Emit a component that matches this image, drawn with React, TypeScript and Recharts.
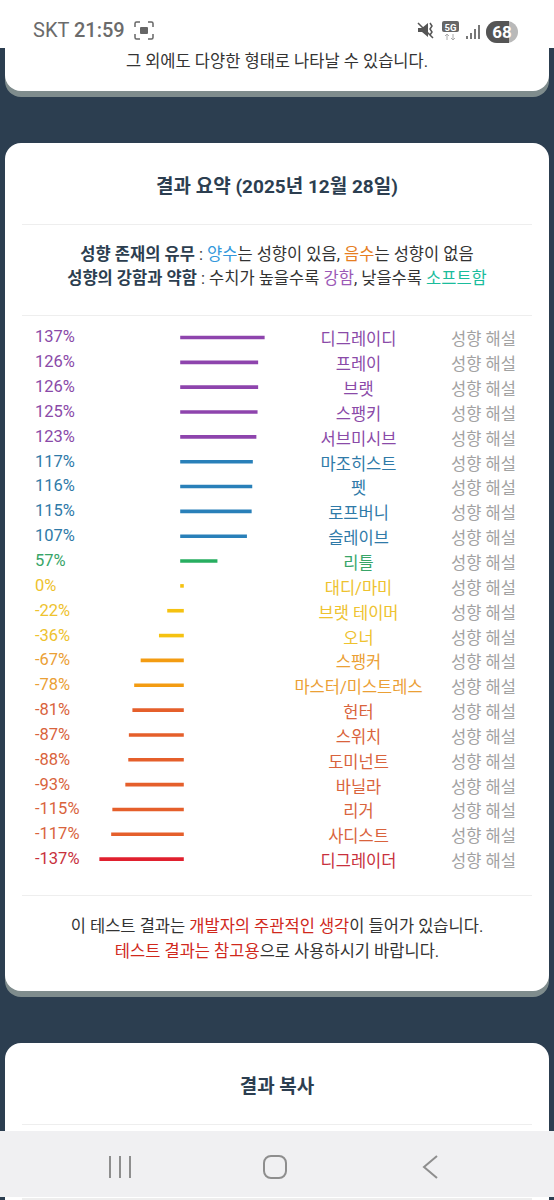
import type { CSSProperties, ReactNode } from "react";
import { Bar, BarChart, Cell, XAxis, YAxis } from "recharts";

const traitNames = [
  "디그레이디", "프레이", "브랫", "스팽키", "서브미시브", "마조히스트", "펫", "로프버니", "슬레이브", "리틀", "대디/마미",
  "브랫 테이머", "오너", "스팽커", "마스터/미스트레스", "헌터", "스위치", "도미넌트", "바닐라", "리거", "사디스트", "디그레이더",
];
const traitValues = [137, 126, 126, 125, 123, 117, 116, 115, 107, 57, 0, -22, -36, -67, -78, -81, -87, -88, -93, -115, -117, -137];
const detailLabel = "성향 해설";

const FONT = 'Roboto, "Noto Sans CJK KR", sans-serif';
const NAVY = "#2c3e50";
const ROW_FONT = 16.5;

function barColor(v: number): string {
  if (v >= 120) return "#8e44ad";
  if (v >= 100) return "#2980b9";
  if (v >= 50) return "#27ae60";
  if (v >= -50) return "#f5c211";
  if (v >= -80) return "#f39c12";
  if (v > -130) return "#e55f2b";
  return "#e0202e";
}

// the labels read a bit softer than the bars
function textColor(v: number): string {
  if (v >= 120) return "#8a4aa8";
  if (v >= 100) return "#2f7aa8";
  if (v >= 50) return "#38a568";
  if (v >= -50) return "#eec22e";
  if (v >= -80) return "#eba035";
  if (v > -130) return "#d9633c";
  return "#c8303c";
}

const rows = traitNames.map((name, i) => ({
  name,
  value: traitValues[i],
  pct: `${traitValues[i]}%`,
}));

// thick line with square caps, so 0% still leaves a small dot
function LineBar(props: any) {
  const { x, y, width, height, fill } = props;
  const cy = y + height / 2;
  return (
    <line
      x1={x}
      x2={x + width}
      y1={cy}
      y2={cy}
      stroke={fill}
      strokeWidth={3.6}
      strokeLinecap="square"
    />
  );
}

function PctTick({ y, index, payload }: any) {
  return (
    <text x={35} y={y} dy={-0.5} dominantBaseline="central" fontSize={ROW_FONT} fill={textColor(traitValues[index])} fontFamily={FONT}>
      {payload.value}
    </text>
  );
}

function NameTick({ y, index, payload }: any) {
  return (
    <g fontFamily={FONT} fontSize={ROW_FONT}>
      <text x={358.5} y={y} dy={2.5} dominantBaseline="central" textAnchor="middle" fill={textColor(traitValues[index])}>
        {payload.value}
      </text>
      <text x={483.5} y={y} dy={2.5} dominantBaseline="central" textAnchor="middle" fill="#a2a2a2">
        {detailLabel}
      </text>
    </g>
  );
}

function Abs({ style, children }: { style: CSSProperties; children?: ReactNode }) {
  return <div style={{ position: "absolute", ...style }}>{children}</div>;
}

function Card({ top, height, shadow = true }: { top: number; height: number; shadow?: boolean }) {
  return (
    <Abs
      style={{
        left: 5,
        width: 544,
        top,
        height,
        background: "#fff",
        borderRadius: 16,
        boxShadow: shadow ? "0 6px 0 #7f8c8d" : undefined,
      }}
    />
  );
}

function Rule({ top }: { top: number }) {
  return <Abs style={{ left: 22, width: 510, top, height: 1.5, background: "#eeeeee" }} />;
}

function Centered({ top, size = 16.5, weight = 400, color = "#333", children }: { top: number; size?: number; weight?: number; color?: string; children: ReactNode }) {
  return (
    <Abs
      style={{
        left: 0,
        width: 554,
        top,
        height: 24,
        lineHeight: "24px",
        textAlign: "center",
        fontSize: size,
        fontWeight: weight,
        color,
        whiteSpace: "nowrap",
      }}
    >
      {children}
    </Abs>
  );
}

function StatusBar() {
  return (
    <Abs style={{ left: 0, top: 0, width: 554, height: 48, background: "#fff" }}>
      <Abs style={{ left: 33, top: 19, fontSize: 20, lineHeight: "23px", color: "#6b6b6b", whiteSpace: "nowrap" }}>
        SKT <span style={{ fontWeight: 500 }}>21:59</span>
      </Abs>
      <svg width={554} height={48} style={{ position: "absolute", left: 0, top: 0 }}>
        <g fill="none" stroke="#666" strokeWidth={1.5}>
          <path d="M135 27v-3.500q0-1.500 1.500-1.500h3.500M148 22h3.500q1.500 0 1.500 1.500v3.500M153 34v3.500q0 1.500-1.500 1.500h-3.500M140 39h-3.500q-1.500 0-1.500-1.500v-3.500" />
        </g>
        <rect x={140} y={27} width={8} height={7} rx={1} fill="#666" />
        <path d="M418 28h4l6-5v14l-6-5h-4z" fill="#555" />
        <path d="M418 23l15 15M430 23l2 3-2 3 2 3-2 3" fill="none" stroke="#555" strokeWidth={1.5} />
        <rect x={442} y={21} width={17} height={11} rx={2} fill="#666" />
        <text x={450.5} y={30.5} textAnchor="middle" fontSize={9.5} fontWeight={700} fill="#fff" fontFamily={FONT}>5G</text>
        <path d="M447 34v6M445 36l2-2 2 2M453 34v6M451 38l2 2 2-2" fill="none" stroke="#aaa" strokeWidth={1} />
        <rect x={466} y={36} width={2} height={3} fill="#777" />
        <rect x={470} y={33} width={2} height={6} fill="#777" />
        <rect x={474} y={29} width={2} height={10} fill="#777" />
        <rect x={478} y={25} width={2} height={14} fill="#777" />
        <rect x={486} y={21} width={32} height={22} rx={11} fill="#b9b9b9" />
        <path d="M497 21h12v22h-12a11 11 0 0 1 0-22z" fill="#555" />
        <text x={502} y={38} textAnchor="middle" fontSize={17} fontWeight={700} fill="#fff" fontFamily={FONT}>68</text>
      </svg>
    </Abs>
  );
}

function NavBar() {
  return (
    <Abs style={{ left: 0, top: 1131, width: 554, height: 66, background: "#f0f0f2" }}>
      <svg width={554} height={66}>
        <g stroke="#8e8e8e" strokeWidth={2}>
          <path d="M110 25v22M120 25v22M130 25v22" />
        </g>
        <rect x={264} y={25} width={22} height={22} rx={7} fill="none" stroke="#8e8e8e" strokeWidth={2} />
        <path d="M437 25l-13 11 13 11" fill="none" stroke="#8e8e8e" strokeWidth={2} />
      </svg>
    </Abs>
  );
}

export default function App() {
  return (
    <div
      style={{
        position: "absolute",
        left: 0,
        top: 0,
        width: 554,
        height: 1200,
        overflow: "hidden",
        background: NAVY,
        fontFamily: FONT,
      }}
    >
      <style>{"body{margin:0}"}</style>
      <Card top={-40} height={131} />
      <Centered top={50} color="#333">그 외에도 다양한 형태로 나타날 수 있습니다.</Centered>

      <Card top={143} height={848} />
      <Centered top={175} size={19} weight={700} color={NAVY}>결과 요약 (2025년 12월 28일)</Centered>
      <Rule top={223.5} />
      <Centered top={243}>
        <b style={{ color: NAVY }}>성향 존재의 유무</b> : <span style={{ color: "#3498db" }}>양수</span>는 성향이 있음, <span style={{ color: "#e67e22" }}>음수</span>는 성향이 없음
      </Centered>
      <Centered top={267}>
        <b style={{ color: NAVY }}>성향의 강함과 약함</b> : 수치가 높을수록 <span style={{ color: "#9b59b6" }}>강함</span>, 낮을수록 <span style={{ color: "#1abc9c" }}>소프트함</span>
      </Centered>
      <Rule top={314.5} />

      <Abs style={{ left: 0, top: 325.3 }}>
        <BarChart
          width={554}
          height={546.5}
          data={rows}
          layout="vertical"
          margin={{ top: 0, right: 0, bottom: 0, left: 0 }}
        >
          <XAxis type="number" domain={[-150, 150]} hide />
          <YAxis
            yAxisId="pct"
            type="category"
            dataKey="pct"
            width={93.5}
            interval={0}
            axisLine={false}
            tickLine={false}
            tick={<PctTick />}
          />
          <YAxis
            yAxisId="name"
            type="category"
            dataKey="name"
            orientation="right"
            width={283.5}
            interval={0}
            axisLine={false}
            tickLine={false}
            tick={<NameTick />}
          />
          <Bar
            yAxisId="pct"
            dataKey="value"
            shape={<LineBar />}
            minPointSize={0}
            isAnimationActive={false}
          >
            {rows.map((r) => (
              <Cell key={r.name} fill={barColor(r.value)} />
            ))}
          </Bar>
        </BarChart>
      </Abs>

      <Rule top={894.5} />
      <Centered top={915}>
        이 테스트 결과는 <span style={{ color: "#d0281c" }}>개발자의 주관적인 생각</span>이 들어가 있습니다.
      </Centered>
      <Centered top={940}>
        <span style={{ color: "#d0281c" }}>테스트 결과는 참고용</span>으로 사용하시기 바랍니다.
      </Centered>

      <Card top={1043} height={200} shadow={false} />
      <Centered top={1075} size={19} weight={700} color={NAVY}>결과 복사</Centered>
      <Rule top={1123.5} />
      <Rule top={1198} />

      <NavBar />
      <StatusBar />
    </div>
  );
}
